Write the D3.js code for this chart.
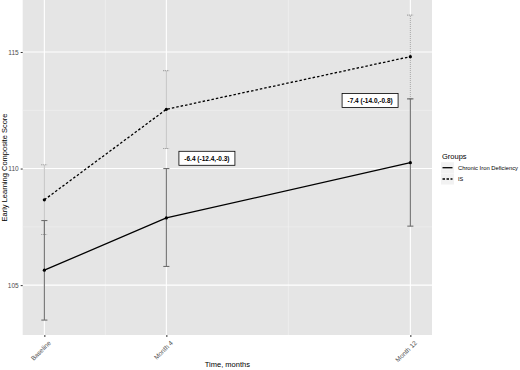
<!DOCTYPE html>
<html><head><meta charset="utf-8">
<script src="https://cdn.jsdelivr.net/npm/d3@7"></script>
<style>body{margin:0;background:#fff}svg{display:block;font-family:"Liberation Sans",Arial,sans-serif}</style>
</head><body><svg id="c" width="520" height="370"></svg>
<script>
const timePoints = [0, 4, 12];
const timeLabels = ["Baseline", "Month 4", "Month 12"];
const groups = ["Chronic Iron Deficiency", "IS"];
const cidMean = [105.64, 107.88, 110.25];
const cidLow = [103.5, 105.8, 107.53];
const cidHigh = [107.77, 110.0, 112.99];
const isMean = [108.66, 112.54, 114.8];
const isLow = [107.17, 110.86, 112.99];
const isHigh = [110.16, 114.2, 116.58];
const yTicks = [105, 110, 115];
const yMinor = [107.5, 112.5];
const xMinor = [2, 8];
const annotations = [
  {x: 5.33, y: 110.44, text: "-6.4 (-12.4,-0.3)"},
  {x: 10.68, y: 112.92, text: "-7.4 (-14.0,-0.8)"}
];

const svg = d3.select("#c");
const pL = 22.7, pR = 432, pT = 0, pB = 335;
const x = d3.scaleLinear().domain([-0.71, 12.71]).range([pL, pR]);
const y = d3.scaleLinear().domain([102.86, 117.23]).range([pB, pT]);

svg.append("rect").attr("x", pL).attr("y", pT).attr("width", pR - pL).attr("height", pB - pT).attr("fill", "#e5e5e5");
const grid = svg.append("g");
yMinor.forEach(v => grid.append("line").attr("x1", pL).attr("x2", pR).attr("y1", y(v)).attr("y2", y(v)).attr("stroke", "#f2f2f2").attr("stroke-width", 0.6));
xMinor.forEach(v => grid.append("line").attr("x1", x(v)).attr("x2", x(v)).attr("y1", pT).attr("y2", pB).attr("stroke", "#f2f2f2").attr("stroke-width", 0.6));
yTicks.forEach(v => grid.append("line").attr("x1", pL).attr("x2", pR).attr("y1", y(v)).attr("y2", y(v)).attr("stroke", "#fff").attr("stroke-width", 1.1));
timePoints.forEach(v => grid.append("line").attr("x1", x(v)).attr("x2", x(v)).attr("y1", pT).attr("y2", pB).attr("stroke", "#fff").attr("stroke-width", 1.1));

// axes
const yAxis = d3.axisLeft(y).tickValues(yTicks).tickSize(2).tickPadding(2);
const gy = svg.append("g").attr("transform", `translate(${pL},0)`).call(yAxis);
gy.select(".domain").remove();
gy.selectAll("line").attr("stroke", "#333");
gy.selectAll("text").attr("font-size", 6.5).attr("fill", "#4d4d4d").attr("font-family", "Liberation Sans, Arial, sans-serif");

const xAxis = d3.axisBottom(x).tickValues(timePoints).tickFormat((d, i) => timeLabels[i]).tickSize(2).tickPadding(2);
const gx = svg.append("g").attr("transform", `translate(0,${pB})`).call(xAxis);
gx.select(".domain").remove();
gx.selectAll("line").attr("stroke", "#333");
gx.selectAll("text").attr("font-size", 6.5).attr("fill", "#4d4d4d").attr("font-family", "Liberation Sans, Arial, sans-serif")
  .attr("text-anchor", "end").attr("dy", "0.35em").attr("transform", "translate(2,4) rotate(-45)");

// error bars
function errbars(low, high, color, dash) {
  const g = svg.append("g");
  timePoints.forEach((t, i) => {
    const cx = x(t), w = x(0.1) - x(0);
    g.append("line").attr("x1", cx).attr("x2", cx).attr("y1", y(low[i])).attr("y2", y(high[i])).attr("stroke", color).attr("stroke-width", 1.1).attr("stroke-dasharray", dash);
    [low[i], high[i]].forEach(v => g.append("line").attr("x1", cx - w).attr("x2", cx + w).attr("y1", y(v)).attr("y2", y(v)).attr("stroke", color).attr("stroke-width", 1.1).attr("stroke-dasharray", dash));
  });
}
errbars(isLow, isHigh, "#8c8c8c", "1,1");
errbars(cidLow, cidHigh, "#6e6e6e", null);

const line = d3.line().x((d, i) => x(timePoints[i])).y(d => y(d));
svg.append("path").datum(cidMean).attr("d", line).attr("fill", "none").attr("stroke", "#000").attr("stroke-width", 1.3);
svg.append("path").datum(isMean).attr("d", line).attr("fill", "none").attr("stroke", "#000").attr("stroke-width", 1.3).attr("stroke-dasharray", "2.5,2");
[cidMean, isMean].forEach(arr => arr.forEach((v, i) => svg.append("circle").attr("cx", x(timePoints[i])).attr("cy", y(v)).attr("r", 1.6).attr("fill", "#000")));

// annotations
annotations.forEach(a => {
  const g = svg.append("g").attr("transform", `translate(${x(a.x)},${y(a.y)})`);
  g.append("rect").attr("x", -28).attr("y", -7).attr("width", 56).attr("height", 14).attr("fill", "#fff").attr("stroke", "#000").attr("stroke-width", 0.8);
  g.append("text").text(a.text).attr("font-size", 6.5).attr("font-weight", "bold").attr("text-anchor", "middle").attr("dy", "0.35em").attr("fill", "#000");
});

// axis titles
svg.append("text").attr("transform", `translate(7,${(pT + pB) / 2}) rotate(-90)`).attr("text-anchor", "middle").attr("font-size", 7.5).attr("fill", "#000").text("Early Learning Composite Score");
svg.append("text").attr("x", (pL + pR) / 2).attr("y", 367).attr("text-anchor", "middle").attr("font-size", 7.5).attr("fill", "#000").text("Time, months");

// legend
const lg = svg.append("g");
lg.append("text").attr("x", 442).attr("y", 158.5).attr("font-size", 7.5).attr("fill", "#000").text("Groups");
groups.forEach((gname, i) => {
  const yy = 167.7 + i * 11.3;
  lg.append("rect").attr("x", 441).attr("y", yy - 5.5).attr("width", 13).attr("height", 11).attr("fill", "#f2f2f2");
  lg.append("line").attr("x1", 442.5).attr("x2", 452.5).attr("y1", yy).attr("y2", yy).attr("stroke", "#000").attr("stroke-width", 1.3).attr("stroke-dasharray", i === 1 ? "2.5,1.5" : null);
  lg.append("text").attr("x", 458).attr("y", yy).attr("dy", "0.35em").attr("font-size", 5.6).attr("textLength", i === 0 ? 60 : null).attr("lengthAdjust", "spacingAndGlyphs").attr("fill", "#000").text(gname);
});
</script></body></html>
